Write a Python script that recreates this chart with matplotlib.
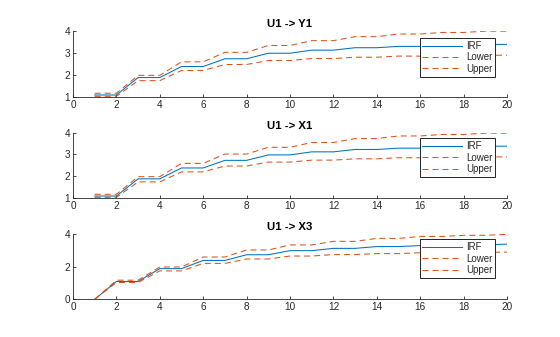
import matplotlib
matplotlib.use("Agg")
import matplotlib.pyplot as plt

plt.rcParams['font.family'] = ['Liberation Sans', 'DejaVu Sans']
plt.rcParams['lines.scale_dashes'] = False

steps = list(range(1, 21))

# Impulse responses of Y1 and X1 to a shock in U1
irf_y1 = [1.09, 1.09, 1.88, 1.88, 2.38, 2.38, 2.73, 2.73, 2.98, 2.98,
          3.12, 3.12, 3.23, 3.23, 3.29, 3.29, 3.34, 3.34, 3.38, 3.38]
upper_y1 = [1.17, 1.17, 1.98, 1.98, 2.59, 2.59, 3.02, 3.02, 3.33, 3.33,
            3.55, 3.55, 3.73, 3.73, 3.85, 3.85, 3.92, 3.92, 3.98, 3.98]
lower_y1 = [1.03, 1.03, 1.74, 1.74, 2.20, 2.20, 2.47, 2.47, 2.65, 2.65,
            2.74, 2.74, 2.80, 2.80, 2.85, 2.85, 2.88, 2.88, 2.89, 2.89]

irf_x1 = irf_y1
upper_x1 = upper_y1
lower_x1 = lower_y1

# Response of X3, which starts at zero
irf_x3 = [0.0, 1.09, 1.09, 1.88, 1.88, 2.38, 2.38, 2.73, 2.73, 2.98,
          2.98, 3.12, 3.12, 3.23, 3.23, 3.29, 3.29, 3.34, 3.34, 3.38]
upper_x3 = [0.0, 1.17, 1.17, 1.98, 1.98, 2.59, 2.59, 3.02, 3.02, 3.33,
            3.33, 3.55, 3.55, 3.73, 3.73, 3.85, 3.85, 3.92, 3.92, 3.98]
lower_x3 = [0.0, 1.03, 1.03, 1.74, 1.74, 2.20, 2.20, 2.47, 2.47, 2.65,
            2.65, 2.74, 2.74, 2.80, 2.80, 2.85, 2.85, 2.88, 2.88, 2.89]

titles = ["U1 -> Y1", "U1 -> X1", "U1 -> X3"]
series = [(irf_y1, upper_y1, lower_y1),
          (irf_x1, upper_x1, lower_x1),
          (irf_x3, upper_x3, lower_x3)]
ylims = [(1, 4), (1, 4), (0, 4)]
yticks = [[1, 2, 3, 4], [1, 2, 3, 4], [0, 2, 4]]
xticks = list(range(0, 21, 2))

W, H = 560, 337
# (top, bottom) of each axes box in pixels
boxes = [(30.7, 97.0), (132.7, 198.0), (234.0, 299.3)]
legend_tops = [0.89, 0.914, 0.919]

blue = '#0072BD'
orange = '#D95319'
ink = '#262626'

fig = plt.figure(figsize=(W / 100, H / 100), dpi=100)
for i, (top, bot) in enumerate(boxes):
    ax = fig.add_axes([73 / W, 1 - bot / H, 434 / W, (bot - top) / H])
    irf, up, lo = series[i]
    ax.plot(steps, irf, color=blue, lw=0.75, label='IRF')
    ax.plot(steps, up, color=orange, lw=0.75, dashes=(4.3, 2.9), label='Lower')
    ax.plot(steps, lo, color=orange, lw=0.75, dashes=(4.3, 2.9), label='Upper')
    ax.set_xlim(0, 20)
    ax.set_ylim(*ylims[i])
    ax.set_xticks(xticks)
    ax.set_yticks(yticks[i])
    ax.set_title(titles[i], fontsize=8.2, fontweight='bold', color='black', pad=3)
    for s in ['top', 'right']:
        ax.spines[s].set_visible(False)
    for s in ['left', 'bottom']:
        ax.spines[s].set_color(ink)
        ax.spines[s].set_linewidth(0.6)
    ax.tick_params(direction='in', length=2.5, width=0.6, colors=ink,
                   labelsize=7.2, pad=2)
    leg = ax.legend(loc='upper right', bbox_to_anchor=(0.9735, legend_tops[i]),
                    bbox_transform=ax.transAxes, borderaxespad=0,
                    fontsize=7.0, handlelength=4.1, handletextpad=0.4,
                    labelspacing=0.15, borderpad=0.3, fancybox=False,
                    framealpha=1, edgecolor='black')
    leg.get_frame().set_linewidth(0.6)
    for t in leg.get_texts():
        t.set_color(ink)

fig.savefig('out.png', dpi=100)
